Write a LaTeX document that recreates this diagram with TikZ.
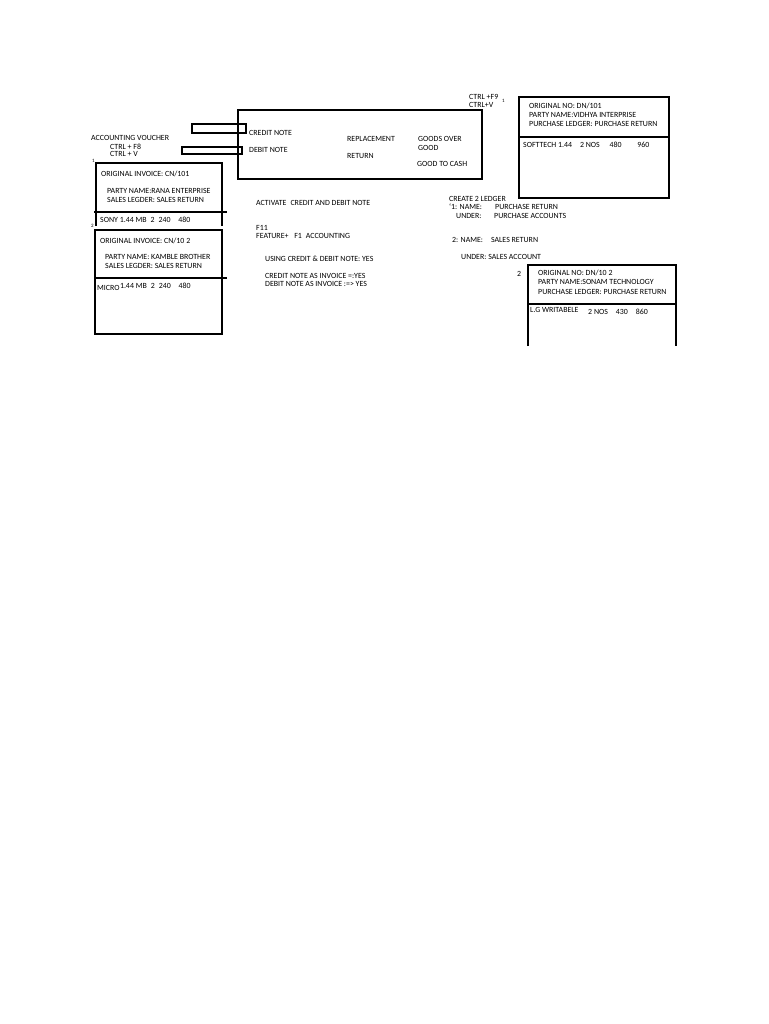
\documentclass[tikz,border=0pt]{standalone}
\usepackage{fontspec}
\setmainfont{Carlito}
\usetikzlibrary{positioning}
\tikzset{every node/.style={font=\fontsize{7.9}{9}\selectfont}, % small caps-like text
         lbl/.style={anchor=west, inner sep=0pt},
         panel/.style={draw, line width=2pt},  % thick frames
         tag/.style={draw, line width=1.6pt}}

\begin{document}
\begin{tikzpicture}[x=1pt,y=-1pt]
\useasboundingbox (0,0) rectangle (768,1024);

% frames
\draw[panel] (238,110) rectangle (482,179);
\draw[tag] (192,124) rectangle (246,133);
\draw[tag] (182,147) rectangle (242,154);
\draw[panel] (96,226) |- (222,163) -- (222,226);
\draw[panel] (94,212) -- (227,212);
\draw[panel] (95,230) rectangle (222,334);
\draw[panel] (95,278) -- (227,278);
\draw[panel] (519,97) rectangle (669,198);
\draw[panel] (519,137) -- (669,137);
\draw[panel] (528,346) |- (676,265) -- (676,346);
\draw[panel] (528,304) -- (676,304);

% voucher keys
\node[lbl] (vch) at (91,138) {ACCOUNTING VOUCHER};
\node[lbl] (f8) at (110,147) {CTRL + F8};
\node[lbl, below=1pt of f8.south west, anchor=north west] (cv) {CTRL + V};
\node[lbl, font=\fontsize{5}{6}\selectfont] (one) at (92,161) {1};
\node[lbl, font=\fontsize{5}{6}\selectfont] (two) at (91,226) {2};

% first credit note
\node[lbl] (cn1) at (101,174) {ORIGINAL INVOICE: CN/101};
\node[lbl] (pn1) at (107,191) {PARTY NAME:RANA ENTERPRISE};
\node[lbl] (sl1) at (107,200) {SALES LEGDER: SALES RETURN};
\node[lbl] (it1) at (100,220) {SONY 1.44 MB\enspace 2\enspace 240\quad 480};

% second credit note
\node[lbl] (cn2) at (100,241) {ORIGINAL INVOICE: CN/10 2};
\node[lbl] (pn2) at (105,257) {PARTY NAME: KAMBLE BROTHER};
\node[lbl] (sl2) at (105,266) {SALES LEGDER: SALES RETURN};
\node[lbl] (it2) at (97,288) {MICRO};
\node[lbl, right=0pt of it2.east, yshift=2pt] (it2b) {1.44 MB\enspace 2\enspace 240\quad 480};

% note types
\node[lbl] (crn) at (249,133) {CREDIT NOTE};
\node[lbl] (dbn) at (249,150) {DEBIT NOTE};
\node[lbl] (rpl) at (347,139) {REPLACEMENT};
\node[lbl] (ret) at (347,156) {RETURN};
\node[lbl] (gog) at (418,139) {GOODS OVER};
\node[lbl] (gd) at (418,148) {GOOD};
\node[lbl] (gtc) at (417,164) {GOOD TO CASH};

% features
\node[lbl] (act) at (256,203) {ACTIVATE\enspace CREDIT AND DEBIT NOTE};
\node[lbl] (f11) at (256,228) {F11};
\node[lbl] (ftr) at (256,236) {FEATURE+\enspace\ F1\enspace ACCOUNTING};
\node[lbl] (use) at (265,259) {USING CREDIT \& DEBIT NOTE: YES};
\node[lbl] (cni) at (265,276) {CREDIT NOTE AS INVOICE =:YES};
\node[lbl] (dni) at (265,284) {DEBIT NOTE AS INVOICE :=> YES};

% ledgers
\node[lbl] (cl) at (449,199) {CREATE 2 LEDGER};
\node[lbl] (n1) at (449,207) {`1: NAME:};
\node[lbl] (pr) at (495,207) {PURCHASE RETURN};
\node[lbl] (u1) at (456,216) {UNDER:};
\node[lbl] (pa) at (494,216) {PURCHASE ACCOUNTS};
\node[lbl] (n2) at (452,240) {2: NAME:\quad SALES RETURN};
\node[lbl] (u2) at (461,257) {UNDER: SALES ACCOUNT};

% first debit note
\node[lbl] (f9) at (469,97) {CTRL +F9};
\node[lbl] (cv2) at (469,105) {CTRL+V};
\node[lbl, font=\fontsize{5}{6}\selectfont] (one2) at (502,101) {1};
\node[lbl] (dn1) at (529,106) {ORIGINAL NO: DN/101};
\node[lbl] (pn3) at (529,115) {PARTY NAME:VIDHYA INTERPRISE};
\node[lbl] (pl1) at (529,124) {PURCHASE LEDGER: PURCHASE RETURN};
\node[lbl] (it3) at (523,145) {SOFTTECH 1.44\quad 2 NOS\quad\ 480\qquad 960};

% second debit note
\node[lbl] (two2) at (517,274) {2};
\node[lbl] (dn2) at (538,273) {ORIGINAL NO: DN/10 2};
\node[lbl] (pn4) at (538,282) {PARTY NAME:SONAM TECHNOLOGY};
\node[lbl] (pl2) at (538,292) {PURCHASE LEDGER: PURCHASE RETURN};
\node[lbl] (it4) at (530,310) {L.G WRITABELE};
\node[lbl] (it4b) at (588,312) {2 NOS\quad 430\quad 860};
\end{tikzpicture}
\end{document}
